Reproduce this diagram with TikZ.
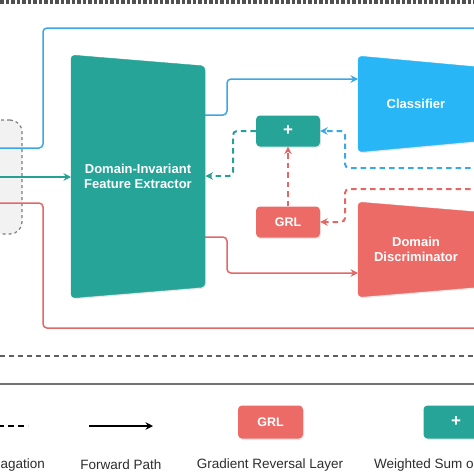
\documentclass[tikz,border=0pt]{standalone}
\usepackage{fontspec}
\setmainfont{Liberation Sans}
\usetikzlibrary{arrows.meta,shadows}
\definecolor{teal1}{RGB}{38,164,152}
\definecolor{blue1}{RGB}{41,182,246}
\definecolor{red1}{RGB}{236,107,102}
\definecolor{blueln}{RGB}{59,167,228}
\definecolor{redln}{RGB}{226,104,104}
\definecolor{tealln}{RGB}{38,160,148}
\definecolor{boxgray}{RGB}{242,242,242}
\definecolor{txtgray}{RGB}{45,45,45}
\tikzset{
  tip/.style={-{Stealth[length=7.5pt,width=7.5pt,inset=2.5pt]}},
  fwd/.style={line width=1.5pt, rounded corners=4pt},
  bwd/.style={line width=2pt, dash pattern=on 5.5pt off 4pt, rounded corners=4pt},
  shape3d/.style={rounded corners=4pt, drop shadow={opacity=0.18, shadow xshift=1pt, shadow yshift=-1.5pt}},
  smallbox/.style={rounded corners=4pt, minimum width=64pt, minimum height=31pt, inner sep=0pt,
     text=white, font=\bfseries\fontsize{12.5}{14}\selectfont,
     drop shadow={opacity=0.18, shadow xshift=1pt, shadow yshift=-1.5pt}},
  plusfont/.style={font=\bfseries\fontsize{17}{17}\selectfont},
  bigtext/.style={text=white, font=\bfseries\fontsize{13}{14.5}\selectfont, align=center},
  legtext/.style={text=txtgray, font=\fontsize{13.5}{15}\selectfont, inner sep=0pt},
}
\begin{document}
\begin{tikzpicture}[x=1pt,y=-1pt]
\clip (0,0) rectangle (474,474);
\fill[white] (0,0) rectangle (474,474);

% top dashed border
\draw[line width=4pt, color={rgb,255:red,80;green,80;blue,80}, dash pattern=on 3.5pt off 2pt] (0,2) -- (474,2);

% source box
\node (src) [draw={rgb,255:red,125;green,125;blue,125}, fill=boxgray, dashed, line width=1.2pt,
  rounded corners=12pt, minimum width=66pt, minimum height=114pt, inner sep=0pt] at (-11,177) {};

% feature extractor
\filldraw[teal1, shape3d] (71,55) -- (205,66) -- (205,287) -- (71,298) -- cycle;
\node (fe) [bigtext] at (138,176.5) {Domain-Invariant\\Feature Extractor};
% classifier
\filldraw[blue1, shape3d] (358,56) -- (478,67) -- (478,141) -- (358,152) -- cycle;
\node (cls) [bigtext] at (416,104) {Classifier};
% domain discriminator
\filldraw[red1, shape3d] (358,202) -- (478,212) -- (478,287) -- (358,297) -- cycle;
\node (dd) [bigtext] at (416,249.5) {Domain\\Discriminator};

% small boxes
\node (sum) [smallbox, plusfont, fill=teal1] at (288,131) {+};
\node (grl) [smallbox, fill=red1] at (288,222) {GRL};

% port coordinates
\coordinate (srcB) at (-10,148);
\coordinate (srcG) at (-10,177);
\coordinate (srcR) at (-10,203);
\coordinate (feIn) at (71,177);
\coordinate (feB) at (205,115);
\coordinate (feR) at (205,237);
\coordinate (feBack) at (205.5,176);
\coordinate (clsIn) at (358,79);
\coordinate (ddIn) at (358,273);
\coordinate (outB) at (480,28);
\coordinate (outR) at (480,328);
\coordinate (backB) at (480,168);
\coordinate (backR) at (480,189);

% forward paths
\draw[fwd, blueln] (srcB) -- (43,148) -- (43,28) -- (outB);
\draw[fwd, tealln, tip] (srcG) -- (feIn);
\draw[fwd, redln] (srcR) -- (43,203) -- (43,328) -- (outR);
\draw[fwd, blueln, tip] (feB) -- (227,115) -- (227,79) -- (clsIn);
\draw[fwd, redln, tip] (feR) -- (227,237) -- (227,273) -- (ddIn);

% backward paths
\draw[bwd, blueln, tip] (backB) -- (345,168) -- (345,131) -- (sum.east);
\draw[bwd, redln, tip] (backR) -- (345,189) -- (345,222) -- (grl.east);
\draw[bwd, redln, tip] (grl.north) -- (sum.south);
\draw[bwd, tealln, tip] (sum.west) -- (233,131) -- (233,176) -- (feBack);

% separators
\draw[line width=1.2pt, color={rgb,255:red,95;green,95;blue,95}, dash pattern=on 5pt off 4pt] (0,356) -- (474,356);
\draw[line width=2pt, color={rgb,255:red,115;green,115;blue,115}] (0,383.5) -- (474,383.5);

% legend
\coordinate (lgA) at (-12,426);
\coordinate (lgB) at (28,426);
\draw[line width=2.8pt, black, dash pattern=on 6pt off 4pt] (lgA) -- (lgB);
\node (lgt1) [legtext, anchor=east] at (45,465) {agation};
\coordinate (lfA) at (89,426);
\coordinate (lfB) at (153,426);
\draw[line width=1.6pt, black, tip] (lfA) -- (lfB);
\node (lgt2) [legtext] at (121,465) {Forward Path};
\node (lgrl) [smallbox, fill=red1, minimum width=65pt, minimum height=33pt] at (270.5,422) {GRL};
\node (lgt3) [legtext] at (270,465) {Gradient Reversal Layer};
\node (lsum) [smallbox, plusfont, fill=teal1, minimum width=65pt, minimum height=33pt] at (456,422) {+};
\node (lgt4) [legtext, anchor=west] at (374,465) {Weighted Sum o};
\end{tikzpicture}
\end{document}
